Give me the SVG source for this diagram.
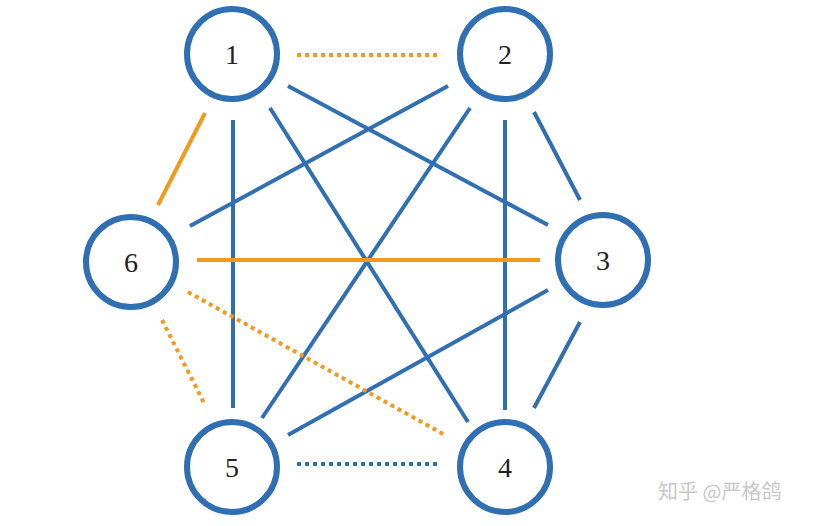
<svg xmlns="http://www.w3.org/2000/svg" width="837" height="526" viewBox="0 0 837 526">
<style>
.n{fill:#fff;stroke:#2f6fb2;stroke-width:6}
.t{font-family:"Liberation Serif",serif;font-size:28px;text-anchor:middle;fill:#222}
.b{stroke:#2f6fb2;stroke-width:4;fill:none}
.o{stroke:#f39a1e;stroke-width:4;fill:none}
.d{stroke-dasharray:4 4}
</style>
<rect width="837" height="526" fill="#fff"/>
<g id="connectors">
<line class="o d" x1="297" y1="55" x2="440" y2="55"/>
<line class="b" x1="288" y1="86" x2="548" y2="225"/>
<line class="b" x1="270" y1="108" x2="468" y2="422"/>
<line class="b" x1="233" y1="120" x2="233" y2="408"/>
<line class="o" x1="205" y1="113" x2="158" y2="205"/>
<line class="b" x1="448" y1="86" x2="190" y2="226"/>
<line class="b" x1="470" y1="108" x2="262" y2="418"/>
<line class="b" x1="505" y1="120" x2="505" y2="410"/>
<line class="b" x1="534" y1="112" x2="580" y2="200"/>
<line class="o" x1="197" y1="260" x2="540" y2="260"/>
<line class="b" x1="548" y1="290" x2="288" y2="435"/>
<line class="b" x1="580" y1="322" x2="534" y2="408"/>
<line class="o d" x1="162" y1="320" x2="205" y2="405"/>
<line class="o d" x1="188" y1="292" x2="445" y2="435"/>
<line class="b d" x1="297" y1="464" x2="440" y2="464"/>
</g>
<g id="n1"><circle class="n" cx="232" cy="54" r="45"/><text class="t" x="232" y="64">1</text></g>
<g id="n2"><circle class="n" cx="505" cy="54" r="45"/><text class="t" x="505" y="64">2</text></g>
<g id="n3"><circle class="n" cx="603" cy="260" r="45"/><text class="t" x="603" y="270">3</text></g>
<g id="n4"><circle class="n" cx="505" cy="467" r="45"/><text class="t" x="505" y="477">4</text></g>
<g id="n5"><circle class="n" cx="232" cy="467" r="45"/><text class="t" x="232" y="477">5</text></g>
<g id="n6"><circle class="n" cx="131" cy="262" r="45"/><text class="t" x="131" y="272">6</text></g>
<text x="658" y="499" font-family="Noto Sans CJK SC, sans-serif" font-size="20" fill="#c8c8c8">知乎 @严格鸽</text>
</svg>
